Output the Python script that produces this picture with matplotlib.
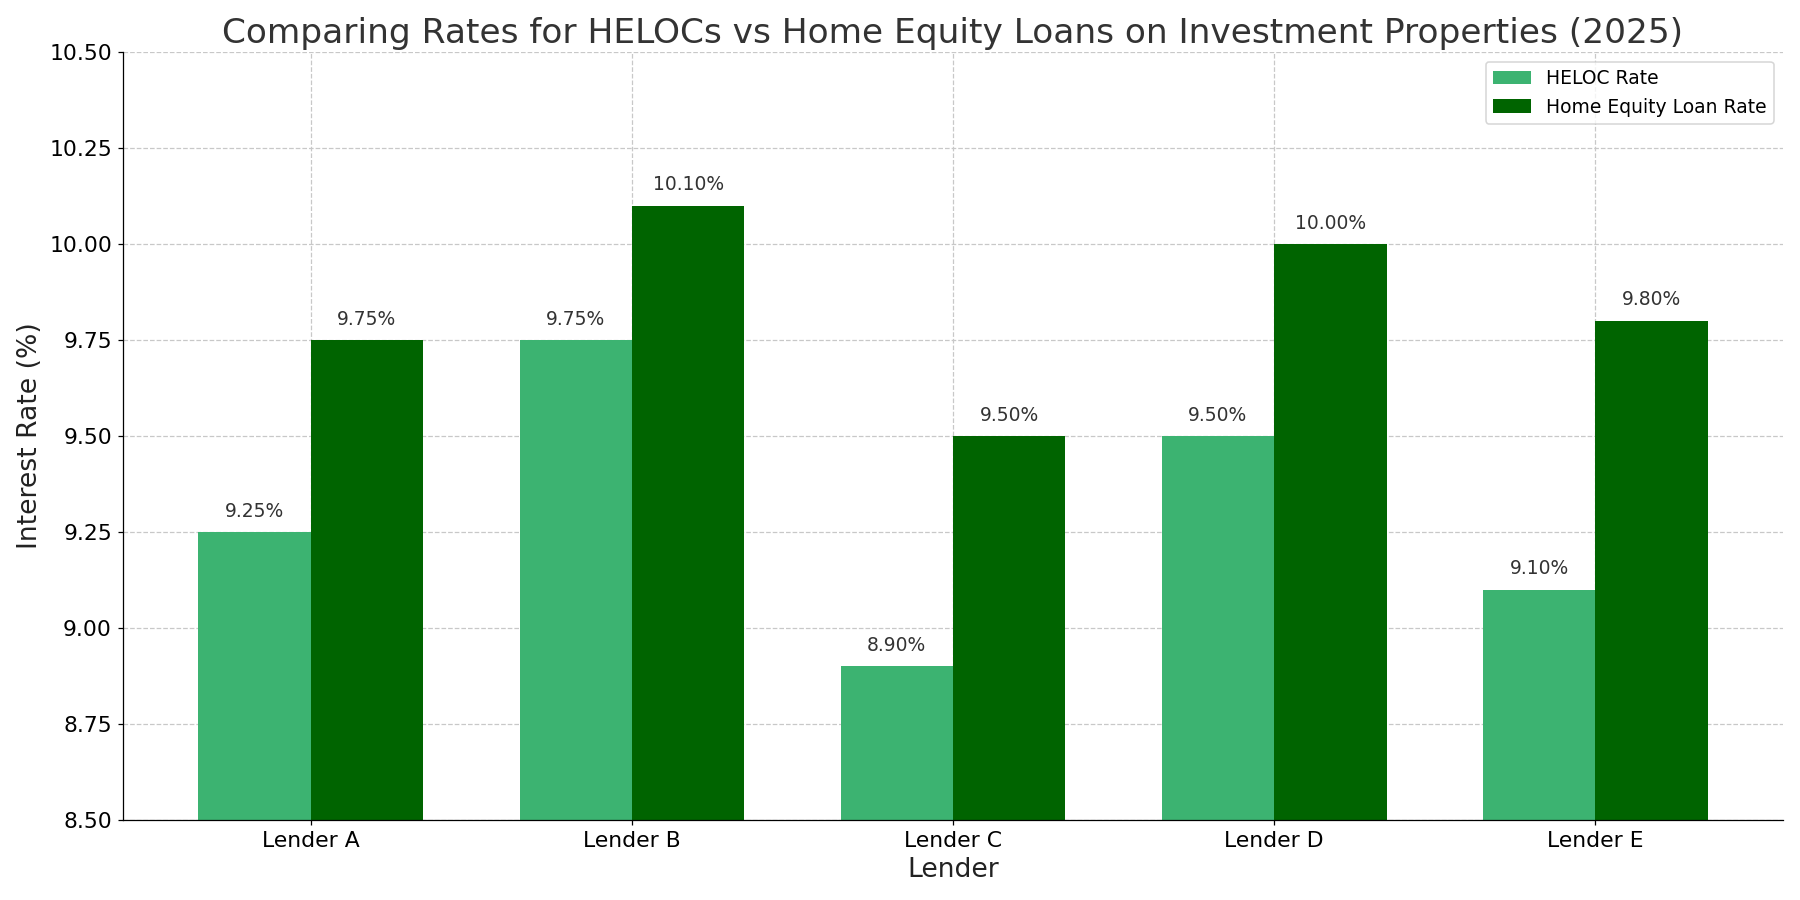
import matplotlib
matplotlib.use("Agg")
import matplotlib.pyplot as plt
import numpy as np

lenders = ["Lender A", "Lender B", "Lender C", "Lender D", "Lender E"]
heloc = [9.25, 9.75, 8.90, 9.50, 9.10]
hel = [9.75, 10.10, 9.50, 10.00, 9.80]

fig, ax = plt.subplots(figsize=(16, 8), dpi=112.5)
x = np.arange(len(lenders))
w = 0.35
b1 = ax.bar(x - w/2, heloc, w, color="#3cb371", label="HELOC Rate", zorder=2)
b2 = ax.bar(x + w/2, hel, w, color="#006400", label="Home Equity Loan Rate", zorder=2)
for bars, vals in ((b1, heloc), (b2, hel)):
    for b, v in zip(bars, vals):
        ax.text(b.get_x() + b.get_width()/2, v + 0.03, f"{v:.2f}%", ha="center", va="bottom",
                fontsize=12, color="#333333")
ax.set_ylim(8.5, 10.5)
ax.set_yticks(np.arange(8.5, 10.51, 0.25))
ax.set_yticklabels([f"{t:.2f}" for t in np.arange(8.5, 10.51, 0.25)])
ax.set_xticks(x)
ax.set_xticklabels(lenders)
ax.tick_params(labelsize=14)
ax.set_xlabel("Lender", fontsize=17, color="#222222")
ax.set_ylabel("Interest Rate (%)", fontsize=17, color="#222222")
ax.set_title("Comparing Rates for HELOCs vs Home Equity Loans on Investment Properties (2025)",
             fontsize=22, color="#333333")
ax.grid(True, linestyle="--", color="#c8c8c8", linewidth=0.8, zorder=3)
ax.spines["top"].set_visible(False)
ax.spines["right"].set_visible(False)
ax.legend(loc="upper right", fontsize=12)
fig.tight_layout()
fig.savefig("out.png")
